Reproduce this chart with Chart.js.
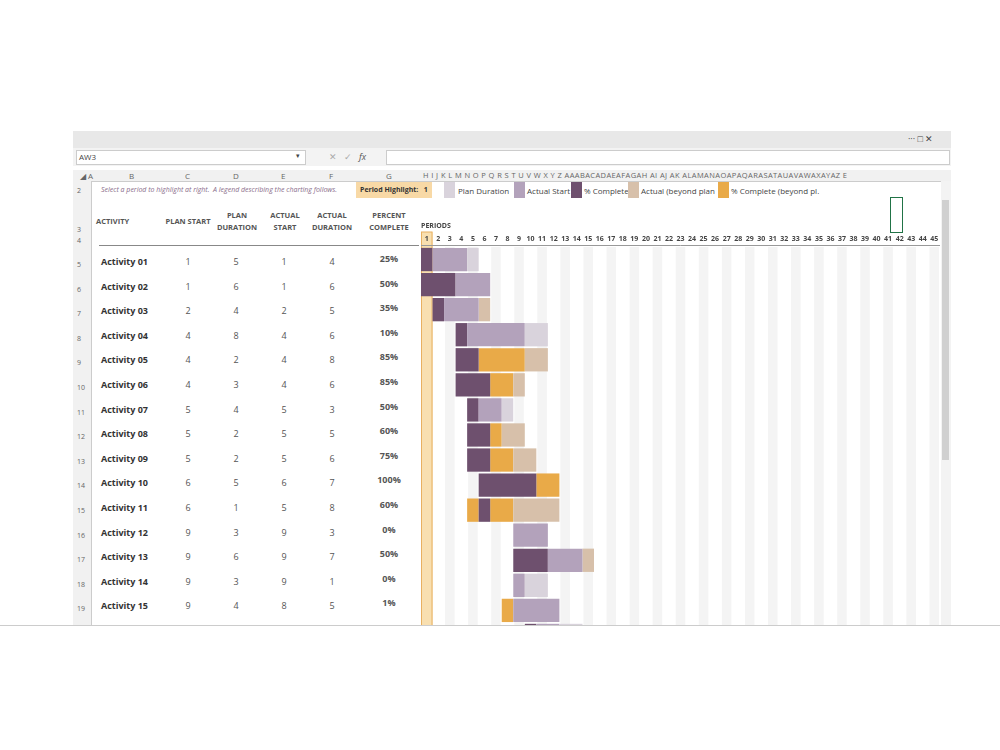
<!DOCTYPE html>
<html><head><meta charset="utf-8">
<script src="https://cdn.jsdelivr.net/npm/chart.js@4/dist/chart.umd.min.js"></script>
<style>
body{margin:0;width:1000px;height:750px;background:#fff;font-family:"Open Sans","Liberation Sans",sans-serif;position:relative;overflow:hidden}
.abs{position:absolute}
.t{position:absolute;white-space:nowrap;color:#444}
.hd{font-size:7.5px;font-weight:bold;color:#555;text-align:center;line-height:12px}
.rn{font-size:7px;color:#666;position:absolute;left:77px}
.act{font-size:9px;font-weight:bold;color:#333;position:absolute;left:101px}
.num{font-size:9px;color:#555;position:absolute;width:40px;text-align:center}
.pct{font-size:9px;color:#555;font-weight:bold;position:absolute;left:369px;width:40px;text-align:center}
#wrap{left:419px;top:218px;width:523px;height:407px;overflow:hidden}
#cover{left:0;top:625px;width:1000px;height:125px;background:#fff;z-index:5;border-top:1px solid #ccc}
</style></head><body>
<div class="abs" style="left:73px;top:131px;width:878px;height:17px;background:#e8e8e8"></div>
<div class="t" style="left:908px;top:132px;font-size:9px">··· &#9633; ✕</div>
<div class="abs" style="left:73px;top:148px;width:878px;height:18px;background:#f3f3f3"></div>
<div class="abs" style="left:76px;top:150px;width:228px;height:13px;background:#fff;border:1px solid #ccc"></div>
<div class="t" style="left:79px;top:151px;font-size:8px">AW3</div>
<div class="t" style="left:296px;top:151px;font-size:7px">▾</div>
<div class="t" style="left:329px;top:150px;font-size:9px;color:#aaa">✕ &nbsp;&nbsp;✓ &nbsp;&nbsp;<i style="color:#555">fx</i></div>
<div class="abs" style="left:386px;top:150px;width:562px;height:13px;background:#fff;border:1px solid #ccc"></div>
<div class="abs" style="left:73px;top:170px;width:878px;height:11px;background:#f1f1f1;border-bottom:1px solid #ccc"></div>
<div class="abs" style="left:73px;top:181px;width:18px;height:444px;background:#f1f1f1;border-right:1px solid #ccc"></div>
<div class="abs" style="left:941px;top:181px;width:10px;height:444px;background:#f3f3f3"></div>
<div class="abs" style="left:942px;top:200px;width:7px;height:260px;background:#d0d0d0"></div>
<div class="t" style="left:80px;top:170px;font-size:8px;color:#666">◢ A</div>
<div class="t" style="left:129px;top:170px;font-size:8px;color:#666">B</div>
<div class="t" style="left:185px;top:170px;font-size:8px;color:#666">C</div>
<div class="t" style="left:233px;top:170px;font-size:8px;color:#666">D</div>
<div class="t" style="left:281px;top:170px;font-size:8px;color:#666">E</div>
<div class="t" style="left:329px;top:170px;font-size:8px;color:#666">F</div>
<div class="t" style="left:386px;top:170px;font-size:8px;color:#666">G</div>
<div class="t" style="left:423px;top:170px;font-size:7.5px;color:#666;letter-spacing:0.4px">H I J K L M N O P Q R S T U V W X Y Z AAABACADAEAFAGAH AI AJ AK ALAMANAOAPAQARASATAUAVAWAXAYAZ E</div>
<div class="t" style="left:101px;top:185px;font-size:7px;font-style:italic;color:#8a6d8a">Select a period to highlight at right.&nbsp; A legend describing the charting follows.</div>
<div class="abs" style="left:356px;top:182px;width:76px;height:16px;background:#f8d9a6"></div>
<div class="t" style="left:360px;top:185px;font-size:7px;font-weight:bold;color:#333">Period Highlight: &nbsp;&nbsp;1</div>
<div class="abs" style="left:444px;top:182px;width:11px;height:16px;background:#d9d3dc"></div>
<div class="t" style="left:458px;top:185px;font-size:8px">Plan Duration</div>
<div class="abs" style="left:514px;top:182px;width:11px;height:16px;background:#b3a2bb"></div>
<div class="t" style="left:527px;top:185px;font-size:8px">Actual Start</div>
<div class="abs" style="left:571px;top:182px;width:11px;height:16px;background:#6e506e"></div>
<div class="t" style="left:584px;top:185px;font-size:8px">% Complete</div>
<div class="abs" style="left:628px;top:182px;width:11px;height:16px;background:#d7c0aa"></div>
<div class="t" style="left:641px;top:185px;font-size:8px">Actual (beyond plan</div>
<div class="abs" style="left:718px;top:182px;width:11px;height:16px;background:#e9aa48"></div>
<div class="t" style="left:731px;top:185px;font-size:8px">% Complete (beyond pl.</div>
<div class="abs" style="left:890px;top:197px;width:11px;height:34px;border:1px solid #217346"></div>
<div class="hd abs" style="left:96px;top:215px;width:44px;text-align:left">ACTIVITY</div>
<div class="hd abs" style="left:163px;top:215px;width:50px">PLAN START</div>
<div class="hd abs" style="left:212px;top:209px;width:50px">PLAN<br>DURATION</div>
<div class="hd abs" style="left:260px;top:209px;width:50px">ACTUAL<br>START</div>
<div class="hd abs" style="left:307px;top:209px;width:50px">ACTUAL<br>DURATION</div>
<div class="hd abs" style="left:359px;top:209px;width:60px">PERCENT<br>COMPLETE</div>
<div class="abs" style="left:99px;top:245px;width:320px;height:1px;background:#888"></div>
<div id="rows"></div>
<div id="wrap" class="abs"><canvas id="gantt" width="523" height="430"></canvas></div>
<div id="cover" class="abs"></div>
<script>
const activities = ['Activity 01','Activity 02','Activity 03','Activity 04','Activity 05','Activity 06','Activity 07','Activity 08','Activity 09','Activity 10','Activity 11','Activity 12','Activity 13','Activity 14','Activity 15','Activity 16']
const planStart = [1,1,2,4,4,4,5,5,5,6,6,9,9,9,9,10]
const planDuration = [5,6,4,8,2,3,4,2,2,5,1,3,6,3,4,5]
const actualStart = [1,1,2,4,4,4,5,5,5,6,5,9,9,9,8,10]
const actualDuration = [4,6,5,6,8,6,3,5,6,7,8,3,7,1,5,3]
const percentComplete = [25,50,35,10,85,85,50,60,75,100,60,0,50,0,1,60]
const periods = Array.from({length: 45}, (_, i) => i + 1)

// left table
const rows = document.getElementById('rows')
activities.forEach((a, i) => {
    const y = 255 + i * 24.6
    let html = '<div class="rn" style="top:' + (y + 5) + 'px">' + (i + 5) + '</div>'
    html += '<div class="act" style="top:' + y + 'px">' + a + '</div>'
    const vals = [planStart[i], planDuration[i], actualStart[i], actualDuration[i]]
    const xs = [168, 216, 264, 312]
    vals.forEach((v, k) => { html += '<div class="num" style="left:' + xs[k] + 'px;top:' + y + 'px">' + v + '</div>' })
    html += '<div class="pct" style="top:' + (y - 3) + 'px">' + percentComplete[i] + '%</div>'
    rows.insertAdjacentHTML('beforeend', html)
})
rows.insertAdjacentHTML('beforeend',
    '<div class="rn" style="top:186px">2</div><div class="rn" style="top:225px">3</div><div class="rn" style="top:236px">4</div>')

// classify each period cell, then merge runs of same colour into floating bars
const colors = {
    plan: '#d9d3dc', actual: '#b3a2bb', complete: '#6e506e',
    actualBeyond: '#d7c0aa', completeBeyond: '#e9aa48'
}
const segs = {plan: [], actual: [], complete: [], actualBeyond: [], completeBeyond: []}
activities.forEach((a, i) => {
    let nDone = Math.floor(actualDuration[i] * percentComplete[i] / 100)
    if (percentComplete[i] > 0 && nDone < 1) nDone = 1
    let cur = null, runStart = 0
    const close = (end) => { if (cur) segs[cur].push({x: [runStart, end], y: a}) }
    periods.forEach(p => {
        const inPlan = p >= planStart[i] && p < planStart[i] + planDuration[i]
        const inActual = p >= actualStart[i] && p < actualStart[i] + actualDuration[i]
        const inDone = p >= actualStart[i] && p < actualStart[i] + nDone
        let c = null
        if (inDone) c = inPlan ? 'complete' : 'completeBeyond'
        else if (inActual) c = inPlan ? 'actual' : 'actualBeyond'
        else if (inPlan) c = 'plan'
        if (c !== cur) { close(p); cur = c; runStart = p }
    })
    close(46)
})

const backdrop = {
    id: 'backdrop',
    beforeDatasetsDraw(chart) {
        const {ctx, chartArea, scales: {x}} = chart
        ctx.save()
        periods.forEach(p => {
            const l = x.getPixelForValue(p), r = x.getPixelForValue(p + 1)
            if (p === 1) {
                ctx.fillStyle = '#f8dfb0'
                ctx.fillRect(l, 14, r - l, chartArea.bottom)
                ctx.strokeStyle = '#e8b060'
                ctx.strokeRect(l + 0.5, 14, r - l - 1, chartArea.bottom)
            } else if (p % 2 === 1) {
                ctx.fillStyle = '#f4f4f4'
                ctx.fillRect(l + 1, chartArea.top, r - l - 2, chartArea.bottom - chartArea.top)
            }
            ctx.fillStyle = '#444'
            ctx.font = 'bold 7px "Open Sans"'
            ctx.textAlign = 'center'
            ctx.fillText(String(p), (l + r) / 2, 23)
        })
        ctx.textAlign = 'left'
        ctx.fillText('PERIODS', x.getPixelForValue(1), 10)
        ctx.strokeStyle = '#999'
        ctx.beginPath(); ctx.moveTo(chartArea.left, 27.5); ctx.lineTo(chartArea.right, 27.5); ctx.stroke()
        ctx.restore()
    }
}

const datasets = Object.keys(segs).map(k => ({
    label: k, data: segs[k], backgroundColor: colors[k],
    barPercentage: 1, categoryPercentage: 0.93, grouped: false
}))

new Chart(document.getElementById('gantt'), {
    type: 'bar',
    data: {labels: activities, datasets: datasets},
    options: {
        indexAxis: 'y', responsive: false, animation: false,
        layout: {padding: {left: 2, right: 2, top: 29, bottom: 0}},
        scales: {
            x: {type: 'linear', min: 1, max: 46, display: false},
            y: {display: false}
        },
        plugins: {legend: {display: false}, tooltip: {enabled: false}}
    },
    plugins: [backdrop]
})
</script>
</body></html>
